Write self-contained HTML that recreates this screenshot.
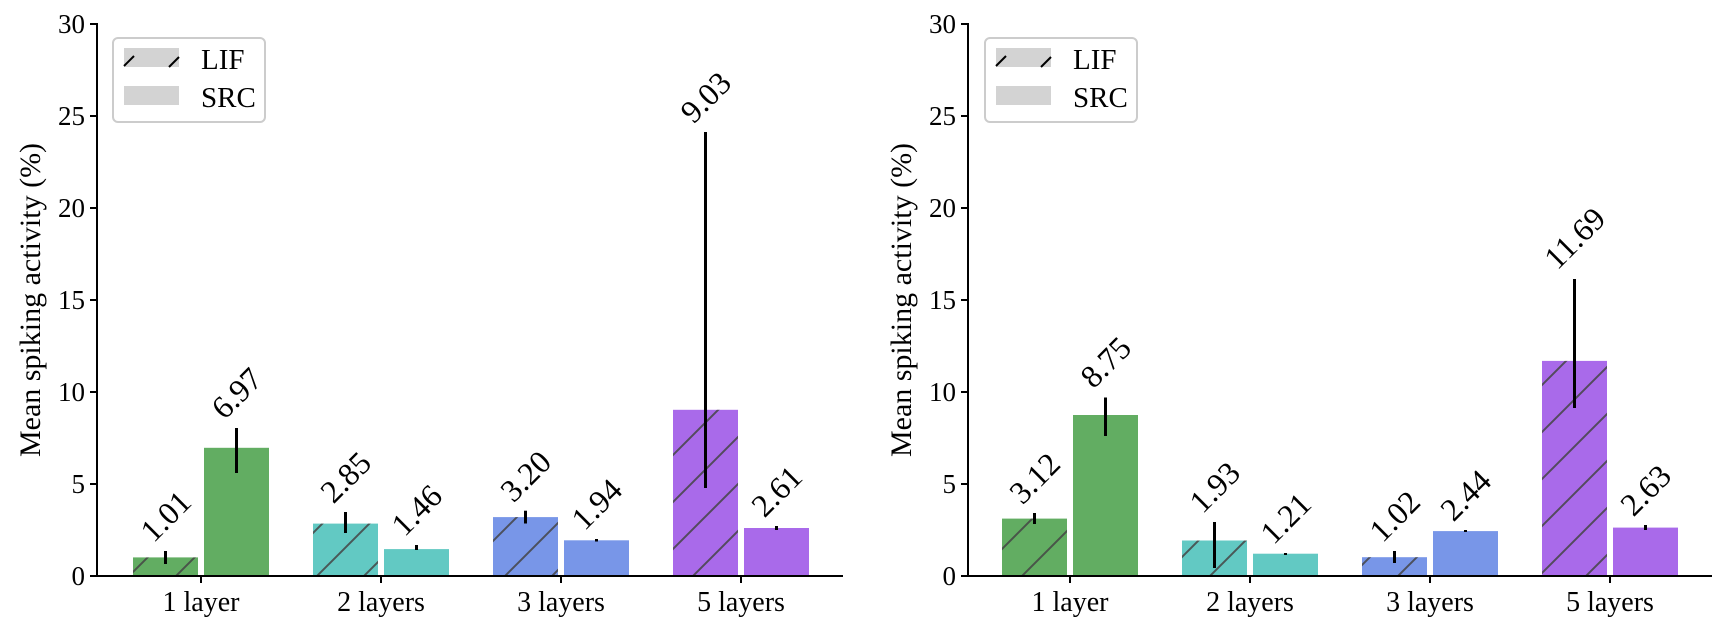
<!DOCTYPE html>
<html><head><meta charset="utf-8"><style>
html,body{margin:0;padding:0;background:#fff}
svg{display:block}
text{font-family:"Liberation Serif",serif;fill:#000}
</style></head><body>
<svg width="1723" height="631" viewBox="0 0 1723 631" xmlns="http://www.w3.org/2000/svg">
<defs>
<pattern id="h" patternUnits="userSpaceOnUse" width="47" height="47">
<path d="M-5,52 L52,-5 M-5,5 L5,-5 M42,52 L52,42" stroke="#444" stroke-width="2" opacity="0.85"/>
</pattern>
</defs>

<g id="left">
<g>
<rect x="133" y="557.4" width="65" height="18.6" fill="#62ad62"/><rect x="133" y="557.4" width="65" height="18.6" fill="url(#h)"/>
<rect x="204" y="447.8" width="65" height="128.2" fill="#62ad62"/>
<rect x="313" y="523.6" width="65" height="52.4" fill="#62c9c3"/><rect x="313" y="523.6" width="65" height="52.4" fill="url(#h)"/>
<rect x="384" y="549.1" width="65" height="26.9" fill="#62c9c3"/>
<rect x="493" y="517.1" width="65" height="58.9" fill="#7896e8"/><rect x="493" y="517.1" width="65" height="58.9" fill="url(#h)"/>
<rect x="564" y="540.3" width="65" height="35.7" fill="#7896e8"/>
<rect x="673" y="409.8" width="65" height="166.2" fill="#a96aea"/><rect x="673" y="409.8" width="65" height="166.2" fill="url(#h)"/>
<rect x="744" y="528" width="65" height="48" fill="#a96aea"/>
</g>
<g stroke="#000" stroke-width="3">
<line x1="165.5" y1="551" x2="165.5" y2="564"/>
<line x1="236.5" y1="428" x2="236.5" y2="473"/>
<line x1="345.5" y1="512" x2="345.5" y2="533"/>
<line x1="416.5" y1="545" x2="416.5" y2="550"/>
<line x1="525.5" y1="510.7" x2="525.5" y2="523.5"/>
<line x1="596.5" y1="539" x2="596.5" y2="541.5"/>
<line x1="705.5" y1="132" x2="705.5" y2="488"/>
<line x1="776.5" y1="526" x2="776.5" y2="530"/>
</g>
<g font-size="32" text-anchor="middle" dominant-baseline="central">
<text transform="translate(165.5,516) rotate(-45)">1.01</text>
<text transform="translate(236.5,393) rotate(-45)">6.97</text>
<text transform="translate(345.5,477) rotate(-45)">2.85</text>
<text transform="translate(416.5,510) rotate(-45)">1.46</text>
<text transform="translate(525.5,476) rotate(-45)">3.20</text>
<text transform="translate(596.5,504) rotate(-45)">1.94</text>
<text transform="translate(705.5,97) rotate(-45)">9.03</text>
<text transform="translate(776.5,491) rotate(-45)">2.61</text>
</g>
<g stroke="#000" stroke-width="2">
<line x1="97" y1="23" x2="97" y2="577"/>
<line x1="96" y1="576" x2="843" y2="576"/>
<line x1="90" y1="576" x2="97" y2="576"/><line x1="90" y1="484" x2="97" y2="484"/><line x1="90" y1="392" x2="97" y2="392"/><line x1="90" y1="300" x2="97" y2="300"/><line x1="90" y1="208" x2="97" y2="208"/><line x1="90" y1="116" x2="97" y2="116"/><line x1="90" y1="24" x2="97" y2="24"/>
<line x1="201" y1="576" x2="201" y2="583"/><line x1="381" y1="576" x2="381" y2="583"/><line x1="561" y1="576" x2="561" y2="583"/><line x1="741" y1="576" x2="741" y2="583"/>
</g>
<g font-size="27" text-anchor="end">
<text x="85" y="585">0</text><text x="85" y="493">5</text><text x="85" y="401">10</text><text x="85" y="309">15</text><text x="85" y="217">20</text><text x="85" y="125">25</text><text x="85" y="33">30</text>
</g>
<g font-size="28" text-anchor="middle">
<text x="201" y="611">1 layer</text><text x="381" y="611">2 layers</text><text x="561" y="611">3 layers</text><text x="741" y="611">5 layers</text>
</g>
<text font-size="30" text-anchor="middle" transform="translate(40,300) rotate(-90)">Mean spiking activity (%)</text>
<rect x="113" y="38" width="152" height="84" rx="5" fill="#fff" stroke="#ccc" stroke-width="2"/>
<rect x="124" y="48" width="55" height="19" fill="#d3d3d3"/>
<path d="M124,66 L134,56 M169,67 L179,57" stroke="#000" stroke-width="2"/>
<rect x="124" y="86" width="55" height="19" fill="#d3d3d3"/>
<text x="201" y="69" font-size="29">LIF</text>
<text x="201" y="107" font-size="29">SRC</text>
</g>

<g id="right">
<g>
<rect x="1002" y="518.6" width="65" height="57.4" fill="#62ad62"/><rect x="1002" y="518.6" width="65" height="57.4" fill="url(#h)"/>
<rect x="1073" y="415" width="65" height="161" fill="#62ad62"/>
<rect x="1182" y="540.5" width="65" height="35.5" fill="#62c9c3"/><rect x="1182" y="540.5" width="65" height="35.5" fill="url(#h)"/>
<rect x="1253" y="553.7" width="65" height="22.3" fill="#62c9c3"/>
<rect x="1362" y="557.2" width="65" height="18.8" fill="#7896e8"/><rect x="1362" y="557.2" width="65" height="18.8" fill="url(#h)"/>
<rect x="1433" y="531.1" width="65" height="44.9" fill="#7896e8"/>
<rect x="1542" y="360.9" width="65" height="215.1" fill="#a96aea"/><rect x="1542" y="360.9" width="65" height="215.1" fill="url(#h)"/>
<rect x="1613" y="527.6" width="65" height="48.4" fill="#a96aea"/>
</g>
<g stroke="#000" stroke-width="3">
<line x1="1034.5" y1="513" x2="1034.5" y2="524"/>
<line x1="1105.5" y1="397.5" x2="1105.5" y2="436"/>
<line x1="1214.5" y1="522" x2="1214.5" y2="568"/>
<line x1="1285.5" y1="553" x2="1285.5" y2="555"/>
<line x1="1394.5" y1="551" x2="1394.5" y2="563"/>
<line x1="1465.5" y1="530" x2="1465.5" y2="532"/>
<line x1="1574.5" y1="279" x2="1574.5" y2="408"/>
<line x1="1645.5" y1="525" x2="1645.5" y2="530"/>
</g>
<g font-size="32" text-anchor="middle" dominant-baseline="central">
<text transform="translate(1034.5,478) rotate(-45)">3.12</text>
<text transform="translate(1105.5,362) rotate(-45)">8.75</text>
<text transform="translate(1214.5,487) rotate(-45)">1.93</text>
<text transform="translate(1285.5,518) rotate(-45)">1.21</text>
<text transform="translate(1394.5,516) rotate(-45)">1.02</text>
<text transform="translate(1465.5,495) rotate(-45)">2.44</text>
<text transform="translate(1574.5,238) rotate(-45)">11.69</text>
<text transform="translate(1645.5,490) rotate(-45)">2.63</text>
</g>
<g stroke="#000" stroke-width="2">
<line x1="968" y1="23" x2="968" y2="577"/>
<line x1="967" y1="576" x2="1712" y2="576"/>
<line x1="961" y1="576" x2="968" y2="576"/><line x1="961" y1="484" x2="968" y2="484"/><line x1="961" y1="392" x2="968" y2="392"/><line x1="961" y1="300" x2="968" y2="300"/><line x1="961" y1="208" x2="968" y2="208"/><line x1="961" y1="116" x2="968" y2="116"/><line x1="961" y1="24" x2="968" y2="24"/>
<line x1="1070" y1="576" x2="1070" y2="583"/><line x1="1250" y1="576" x2="1250" y2="583"/><line x1="1430" y1="576" x2="1430" y2="583"/><line x1="1610" y1="576" x2="1610" y2="583"/>
</g>
<g font-size="27" text-anchor="end">
<text x="956" y="585">0</text><text x="956" y="493">5</text><text x="956" y="401">10</text><text x="956" y="309">15</text><text x="956" y="217">20</text><text x="956" y="125">25</text><text x="956" y="33">30</text>
</g>
<g font-size="28" text-anchor="middle">
<text x="1070" y="611">1 layer</text><text x="1250" y="611">2 layers</text><text x="1430" y="611">3 layers</text><text x="1610" y="611">5 layers</text>
</g>
<text font-size="30" text-anchor="middle" transform="translate(911,300) rotate(-90)">Mean spiking activity (%)</text>
<rect x="985" y="38" width="152" height="84" rx="5" fill="#fff" stroke="#ccc" stroke-width="2"/>
<rect x="996" y="48" width="55" height="19" fill="#d3d3d3"/>
<path d="M996,66 L1006,56 M1041,67 L1051,57" stroke="#000" stroke-width="2"/>
<rect x="996" y="86" width="55" height="19" fill="#d3d3d3"/>
<text x="1073" y="69" font-size="29">LIF</text>
<text x="1073" y="107" font-size="29">SRC</text>
</g>
</svg>
</body></html>
